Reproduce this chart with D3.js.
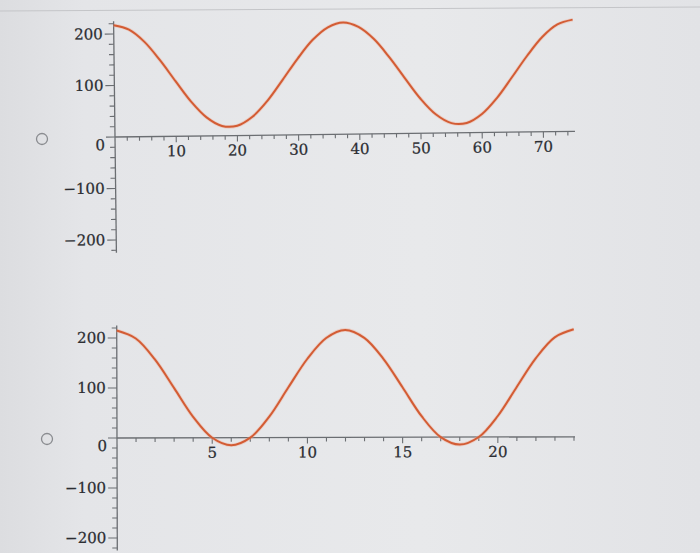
<!DOCTYPE html>
<html>
<head>
<meta charset="utf-8">
<script src="https://cdn.jsdelivr.net/npm/d3@7"></script>
<style>
  html, body { margin: 0; padding: 0; background: #e5e6e8; }
  svg { display: block; }
</style>
</head>
<body>
<svg id="chart" width="700" height="553"></svg>
<script>
// ---- Data ----
// Top plot: x from 0 to 75 step 2.5
const topX = [0, 2.5, 5, 7.5, 10, 12.5, 15, 17.5, 20, 22.5, 25, 27.5, 30, 32.5, 35, 37.5,
              40, 42.5, 45, 47.5, 50, 52.5, 55, 57.5, 60, 62.5, 65, 67.5, 70, 72.5, 75];
const topY = [217, 208, 184, 148, 107, 67, 36, 19, 19, 36, 67, 107, 148, 184, 208, 217,
              208, 184, 148, 107, 67, 36, 19, 19, 36, 67, 107, 148, 184, 208, 217];
// Bottom plot: x from 0 to 24 step 1
const botX = [0, 1, 2, 3, 4, 5, 6, 7, 8, 9, 10, 11, 12, 13, 14, 15, 16, 17, 18, 19, 20, 21, 22, 23, 24];
const botY = [215, 199, 157, 100, 42, 0, -15, 0, 42, 100, 157, 199, 215, 199, 157, 100, 42, 0, -15, 0, 42, 100, 157, 199, 215];

const topXTicks = [10, 20, 30, 40, 50, 60, 70];
const botXTicks = [5, 10, 15, 20];
const yTicks = [-200, -100, 0, 100, 200];

const svg = d3.select("#chart");

// background
const defs = svg.append("defs");
const grad = defs.append("linearGradient").attr("id", "bg").attr("x1", 0).attr("x2", 1);
grad.append("stop").attr("offset", "0").attr("stop-color", "#dcdde0");
grad.append("stop").attr("offset", "0.12").attr("stop-color", "#e4e5e8");
grad.append("stop").attr("offset", "0.6").attr("stop-color", "#e8e9eb");
grad.append("stop").attr("offset", "1").attr("stop-color", "#e2e3e6");
svg.append("rect").attr("width", 700).attr("height", 553).attr("fill", "url(#bg)");
// separator line at top
svg.append("line").attr("x1", 0).attr("y1", 11).attr("x2", 700).attr("y2", 7)
  .attr("stroke", "#c4c5c8").attr("stroke-width", 1);

const font = "'DejaVu Serif', serif";

function plot(opts) {
  const g = svg.append("g")
    .attr("transform", `rotate(${opts.rot}, ${opts.x0}, ${opts.y0})`);
  const x = d3.scaleLinear().domain(opts.xDomain).range([opts.x0, opts.x1]);
  const y = d3.scaleLinear().domain([-225, 225]).range([opts.y0 + 225 * opts.k, opts.y0 - 225 * opts.k]);

  // x axis
  const xAxisG = g.append("g").attr("transform", `translate(0,${opts.y0})`);
  xAxisG.append("line").attr("x1", opts.x0).attr("x2", x(opts.xDomain[1]) + 1)
    .attr("stroke", "#6b6e72").attr("stroke-width", 1.3);
  const minor = d3.range(opts.minorStep, opts.xDomain[1] + 0.001, opts.minorStep);
  xAxisG.selectAll("line.mx").data(minor).join("line")
    .attr("x1", d => x(d)).attr("x2", d => x(d)).attr("y1", 0)
    .attr("y2", d => opts.xTicks.includes(d) ? 6 : 4)
    .attr("stroke", "#6b6e72").attr("stroke-width", 1.1);
  xAxisG.selectAll("text").data(opts.xTicks).join("text")
    .attr("x", d => x(d)).attr("y", 20)
    .attr("text-anchor", "middle")
    .attr("font-family", font).attr("font-size", 15).attr("fill", "#2c2e33")
    .attr("stroke", "#2c2e33").attr("stroke-width", 0.25)
    .text(d => d);

  // y axis
  const yAxisG = g.append("g").attr("transform", `translate(${opts.x0},0)`);
  yAxisG.append("line").attr("y1", y(225)).attr("y2", y(-225))
    .attr("stroke", "#6b6e72").attr("stroke-width", 1.3);
  const yMinor = d3.range(-220, 221, 20);
  yAxisG.selectAll("line.my").data(yMinor).join("line")
    .attr("x1", d => yTicks.includes(d) ? -9 : -5).attr("x2", 0)
    .attr("y1", d => y(d)).attr("y2", d => y(d))
    .attr("stroke", "#6b6e72").attr("stroke-width", 1.1);
  yAxisG.selectAll("text").data(yTicks).join("text")
    .attr("x", d => d === 0 ? -10 : -11)
    .attr("y", d => d === 0 ? y(d) + 13 : y(d) + 5)
    .attr("text-anchor", "end")
    .attr("font-family", font).attr("font-size", 15).attr("fill", "#2c2e33")
    .attr("stroke", "#2c2e33").attr("stroke-width", 0.25)
    .text(d => d < 0 ? "\u2212" + Math.abs(d) : d);

  // curve
  const data = opts.xs.map((v, i) => [v, opts.ys[i]]);
  const line = d3.line().x(d => x(d[0])).y(d => y(d[1])).curve(d3.curveCatmullRom.alpha(0.5));
  g.append("path").datum(data).attr("d", line)
    .attr("fill", "none").attr("stroke", "#f0a88e").attr("stroke-width", 3.6).attr("stroke-opacity", 0.4);
  g.append("path").datum(data).attr("d", line)
    .attr("fill", "none").attr("stroke", "#d35c34").attr("stroke-width", 2)
    .attr("stroke-linejoin", "round");

  // radio button
  svg.append("circle").attr("cx", opts.rx).attr("cy", opts.ry).attr("r", 5.5)
    .attr("fill", "none").attr("stroke", "#8a8c90").attr("stroke-width", 1.3);
}

plot({ x0: 115, x1: 574, y0: 137, k: 0.515, rot: -0.7, xDomain: [0, 75],
       xTicks: topXTicks, minorStep: 2, xs: topX, ys: topY, rx: 42, ry: 139 });
plot({ x0: 117, x1: 574, y0: 438, k: 0.5, rot: -0.15, xDomain: [0, 24],
       xTicks: botXTicks, minorStep: 1, xs: botX, ys: botY, rx: 47, ry: 439 });
</script>
</body>
</html>
